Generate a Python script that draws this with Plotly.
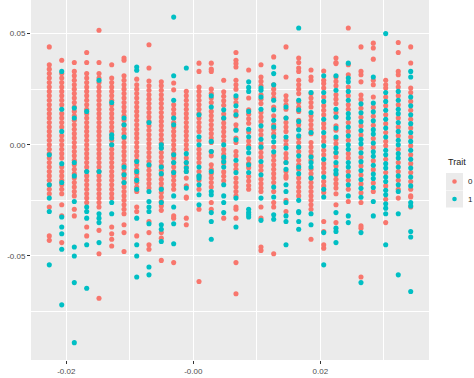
import plotly.graph_objects as go

# x position of each vertical strip (30 strips)
col_x = [-0.02268, -0.02072, -0.01874, -0.01679, -0.01485, -0.01285, -0.01091, -0.00891,
         -0.00698, -0.00504, -0.00309, -0.00110, 0.00090, 0.00283, 0.00479, 0.00672,
         0.00872, 0.01066, 0.01266, 0.01460, 0.01660, 0.01854, 0.02054, 0.02247,
         0.02441, 0.02641, 0.02835, 0.03030, 0.03228, 0.03424]

# y values (in units of 1e-3) for Trait 0 and Trait 1, one list per strip
t0_c01 = [44, 36, 34, 32, 30, 28, 26, 24, 22, 20, 18, 16, 14, 12, 10, 8, 6, 4, 2, 0, -2, -4, -6, -8, -10, -12, -14, -16, -18, -20, -22, -28, -41, -43]
t1_c01 = [-4.5, -18, -24, -30, -54]
t0_c02 = [38, 32, 30, 28, 26, 24, 22, 20, 18, 14, 12, 10, 8, 4, 2, 0, -2, -4, -6, -10, -12, -14, -16, -18, -20, -22, -27, -32, -44]
t1_c02 = [33, 16, 6, -8.5, -17, -32.5, -37, -40, -47, -72]
t0_c03 = [37, 33, 31, 29, 27, 25, 23, 21, 19, 17, 15, 13, 11, 9, 7, 5, 3, 1, -1, -3, -5, -7, -9, -11, -13, -15, -17, -19, -21, -23, -29, -32]
t1_c03 = [16.5, 12, -8, -14, -25.5, -46, -50, -62, -89]
t0_c04 = [41.5, 37, 32, 30, 28, 26, 24, 22, 20, 18, 16, 14, 12, 10, 8, 6, 4, 2, 0, -2, -4, -6, -8, -10, -12, -14, -16, -18, -20, -22, -24, -26, -37, -41]
t1_c04 = [15, -12, -28, -30, -33, -45, -64.5]
t0_c05 = [51.5, 37, 32, 30, 28, 26, 24, 22, 20, 18, 16, 14, 12, 10, 8, 6, 4, 2, 0, -2, -4, -6, -8, -10, -12, -14, -16, -18, -20, -22, -24, -26, -28, -38.5, -49, -69]
t1_c05 = [29, -12, -31, -33, -35, -44]
t0_c06 = [36, 30, 28, 26, 24, 22, 20, 18, 16, 14, 12, 10, 8, 6, 4, 2, 0, -2, -4, -6, -8, -10, -12, -14, -16, -18, -20, -22, -24, -37, -40, -42.5, -45.5]
t1_c06 = [19, 4.5, 3, 0, -26, -31]
t0_c07 = [39, 38, 31, 29, 27, 25, 23, 21, 19, 17, 15, 13, 11, 9, 7, 5, 3, 1, -1, -3, -5, -7, -9, -11, -13, -15, -17, -19, -21, -23, -25, -27, -29, -31, -36, -39.5, -48]
t1_c07 = [12, 9, 3.5, -10, -13.5, -17]
t0_c08 = [29.5, 27, 25, 23, 21, 19, 17, 15, 13, 11, 9, 7, 5, 3, 1, -1, -3, -5, -7, -9, -11, -13, -15, -17, -19, -21, -28, -30, -41]
t1_c08 = [35, 33.5, -7.5, -12, -16, -20, -33, -45, -50, -59.5]
t0_c09 = [45, 34.5, 28.7, 26.5, 24.5, 22.5, 20.5, 18.5, 16.5, 14.5, 12.5, 10.5, 8.5, 6.5, 4.5, 2.5, 0.5, -1.5, -3.5, -5.5, -7.5, -9.5, -11.5, -13.5, -15.5, -17.5, -19.5, -34.5, -39.5, -45, -47]
t1_c09 = [10, -9, -21, -25.5, -28, -30, -35.5, -55, -58.5]
t0_c10 = [28.3, 26.5, 24.5, 22.5, 20.5, 18.5, 16.5, 14.5, 12.5, 10.5, 8.5, 6.5, 4.5, 2.5, 0.5, -1.5, -3.5, -5.5, -7.5, -9.5, -11.5, -13.5, -15.5, -17.5, -19.5, -21.5, -23.5, -25.5, -27.5, -29.5, -39.5, -42, -52]
t1_c10 = [0, -1.5, -10, -13, -20, -26, -36, -38, -43.5]
t0_c11 = [27.8, 24.7, 18, 16, 14, 12, 10, 8, 6, 4, 2, 0, -2, -4, -6, -8, -10, -12, -14, -16, -18, -20, -32, -33, -53]
t1_c11 = [57.4, 31, 20, 12, 9, -4.5, -8, -12.5, -23, -28, -35.5, -44.5]
t0_c12 = [24, 22, 20, 18, 16, 14, 12, 10, 8, 6, 4, 2, 0, -2, -6, -8, -10, -12, -15, -18.5, -23.5, -24, -33, -36]
t1_c12 = [34.5, -4, -8, -10.5, -12, -19.5]
t0_c13 = [36.7, 33, 26, 24, 22, 20, 18, 16, 14, 12, 10, 8, 6, 2, -2, -4, -6, -8, -12, -14, -16, -20, -29, -61.5]
t1_c13 = [13.5, 3.6, 0, -10, -14, -15, -18, -22.5, -27]
t0_c14 = [36.7, 34, 33, 25, 23, 21, 19, 15, 13, 11, 9, 7, 5, 3, 1, -3, -5, -9, -11, -13, -15, -17, -19, -26, -29]
t1_c14 = [22, 17, 1.5, -3, -12, -21, -22.5, -30.5, -34.5, -42.5]
t0_c15 = [29, 23.8, 21.8, 19.8, 17.8, 13.8, 11.8, 9.8, 7.8, 5.8, 3.8, 1.8, -2.2, -4.2, -6.2, -8.2, -12.2, -14.2, -16.2, -33]
t1_c15 = [15.7, 12, 0, -5.5, -7.5, -10, -18, -23, -26, -30.5]
t0_c16 = [41.5, 38, 36.5, 35, 29, 27, 25, 21, 19, 15, 13, 9, 7, 3, 1, -3, -5, -9, -11, -15, -17, -19, -21, -23, -28, -29, -33, -53, -67]
t1_c16 = [22, 17.5, 13.5, 6.5, 2.2, -7, -12.5, -24, -37]
t0_c17 = [33.6, 21, 15.7, 13.7, 11.7, 9.7, 5.7, 1.7, -0.3, -6.3, -8.3, -10.3, -14.3, -16.3, -18.3, -20]
t1_c17 = [28.3, 25.8, 24, 15, 7, 3.6, -1.5, -3.6, -9, -12.5, -29, -30.5, -31.5, -32.5]
t0_c18 = [36, 30.5, 28.5, 26.5, 22.5, 20.5, 18.5, 14.5, 12.5, 10.5, 6.5, 4.5, 0.5, -1.5, -3.5, -5.5, -9.5, -11.5, -15.5, -17.5, -19.5, -21, -28, -33, -46, -47.5]
t1_c18 = [25.5, 24.5, 21.5, 16, 8.5, 2.5, -1, -7.5, -13.5, -24, -34]
t0_c19 = [39.5, 27, 25, 23, 21, 17, 13, 9, 7, 5, -1, -5, -7, -9, -11, -13, -15, -17, -21, -26, -28, -49]
t1_c19 = [35, 32, 27, 20, 15.7, 11, 8, 3.6, 1.3, -3.2, -19, -23.5, -31.5, -33.5]
t0_c20 = [44, 30.5, 22, 20, 18, 16, 12, 10, 8, 6, 2, 0, -4, -6, -8, -12, -14, -15, -25, -30]
t1_c20 = [17, 12, 3.5, -1.5, -8, -11, -18, -21, -26, -32, -34.5, -45]
t0_c21 = [39, 37, 34.5, 33, 29, 27, 25, 23, 19, 17, 15, 11, 9, 7, 3, 1, -1, -3, -7, -9, -11, -15, -17, -19, -21, -23]
t1_c21 = [52.5, 20, 15.7, 10.5, 6.7, 4, -1, -5, -10, -13, -25, -30, -30.5, -34.5, -38]
t0_c22 = [33.6, 30.5, 29, 23, 21, 19, 17, 13, 11, 9, 7, 5, 1, -1, -3, -5, -7, -11, -13, -15, -17, -19, -21, -23, -25, -27, -29, -42.5]
t1_c22 = [23.5, 14.5, 5.5, -5.5, -8, -10, -15, -31, -36]
t0_c23 = [33.2, 29, 27.5, 25.5, 21.5, 17.5, 15.5, 13.5, 9.5, 7.5, 3.5, 1.5, -2.5, -4.5, -8.5, -10.5, -12.5, -16.5, -18.5, -21.5, -34.5, -39, -45, -46.5]
t1_c23 = [31, 23.5, 19.5, 11.5, 5.5, -0.5, -6.5, -14.5, -20, -23.5, -39.5, -54]
t0_c24 = [39, 37, 36.5, 30.5, 28.5, 26.5, 22.5, 20.5, 18.5, 14.5, 12.5, 8.5, 6.5, 2.5, 0.5, -3.5, -5.5, -9.5, -13.5, -15.5, -17.5, -19.5, -22, -27, -35]
t1_c24 = [31, 24.5, 16, 12.5, 7.5, 3.5, -1.5, -3.5, -8, -11.5, -13, -30.5, -37.5, -39, -44]
t0_c25 = [52.5, 36, 31.5, 26, 22, 18, 16, 10, 6, 2, -4, -6, -12, -16, -20, -25.5]
t1_c25 = [36.7, 30, 28.3, 24, 20, 14, 12, 8, 4, 0, -2, -8, -10, -14, -18, -23, -32, -35]
t0_c26 = [44, 33, 31.5, 28.3, 22.4, 20.4, 16.4, 12.4, 8.4, 4.4, -1.6, -5.6, -9.6, -13.6, -17.6, -21.6, -26, -36.5, -37.5, -59.5]
t1_c26 = [18.4, 14.4, 10.4, 6.4, 2.4, 0.4, -3.6, -7.6, -11.6, -15.6, -19.6, -23.6, -39.5, -62]
t0_c27 = [45.7, 43.5, 38.5, 29, 27, 21.5, 16.8, 12.8, 8.8, 2.8, -1.2, -7.2, -11.2, -17.2, -21]
t1_c27 = [30.5, 18.8, 14.8, 10.8, 6.8, 4.8, 0.8, -3.2, -5.2, -9.2, -13.2, -15.2, -19.2, -25.5, -32]
t0_c28 = [29, 27, 25.5, 21.5, 17.5, 13.5, 9.5, 5.5, 1.5, -0.5, -6.5, -12.5, -18.5, -24.5, -35]
t1_c28 = [50, 23.5, 19.5, 15.5, 11.5, 7.5, 3.5, -2.5, -4.5, -8.5, -10.5, -14.5, -16.5, -20.5, -22.5, -26.5, -28.5, -31, -45]
t0_c29 = [46, 41.5, 33, 31.5, 28, 26, 22, 18, 12, 8, 4, -2, -8, -12, -16, -20, -24]
t1_c29 = [24, 20, 16, 14, 10, 6, 2, 0, -4, -6, -10, -14, -18, -21, -31, -58.5]
t0_c30 = [44, 36.8, 25.5, 23.5, 19.5, 15.5, 11.5, 7.5, 3.5, -0.5, -4.5, -8.5, -12.5, -16.5, -20, -23, -23.5, -28]
t1_c30 = [33, 30.5, 21.5, 17.5, 13.5, 9.5, 5.5, 1.5, -2.5, -6.5, -10.5, -14.5, -18.5, -26, -27.5, -39, -41.5, -66]

trait0_cols = [t0_c01, t0_c02, t0_c03, t0_c04, t0_c05, t0_c06, t0_c07, t0_c08, t0_c09, t0_c10,
               t0_c11, t0_c12, t0_c13, t0_c14, t0_c15, t0_c16, t0_c17, t0_c18, t0_c19, t0_c20,
               t0_c21, t0_c22, t0_c23, t0_c24, t0_c25, t0_c26, t0_c27, t0_c28, t0_c29, t0_c30]
trait1_cols = [t1_c01, t1_c02, t1_c03, t1_c04, t1_c05, t1_c06, t1_c07, t1_c08, t1_c09, t1_c10,
               t1_c11, t1_c12, t1_c13, t1_c14, t1_c15, t1_c16, t1_c17, t1_c18, t1_c19, t1_c20,
               t1_c21, t1_c22, t1_c23, t1_c24, t1_c25, t1_c26, t1_c27, t1_c28, t1_c29, t1_c30]

x_ticks = [-0.02, 0.0, 0.02]
x_ticktext = ["-0.02", "-0.00", "0.02"]
y_ticks = [0.05, 0.0, -0.05]
y_ticktext = ["0.05", "0.00", "-0.05"]
trait_labels = ["0", "1"]
trait_colors = ["#F8766D", "#00BFC4"]


def flatten(cols):
    xs, ys = [], []
    for cx, col in zip(col_x, cols):
        for v in col:
            xs.append(cx)
            ys.append(v / 1000.0)
    return xs, ys


fig = go.Figure()
for cols, lab, colr in zip([trait0_cols, trait1_cols], trait_labels, trait_colors):
    xs, ys = flatten(cols)
    fig.add_trace(go.Scatter(x=xs, y=ys, mode="markers", name=lab, showlegend=False,
                             marker=dict(color=colr, size=5.1, line=dict(width=0))))

W, H = 474, 378
L, R, T, B = 31, 45, 0, 18
pw, ph = W - L - R, H - T - B


def px2paper(px, py):
    return (px - L) / pw, (H - B - py) / ph


font_fam = "Liberation Sans, Arial, sans-serif"
axis_common = dict(showline=False, zeroline=False, ticks="outside", ticklen=3, tickwidth=1,
                   tickcolor="#333333", gridcolor="white", gridwidth=1,
                   tickfont=dict(size=8, color="#4D4D4D", family=font_fam))

fig.update_layout(
    width=W, height=H,
    margin=dict(l=L, r=R, t=T, b=B, pad=0),
    paper_bgcolor="white", plot_bgcolor="#EBEBEB",
    xaxis=dict(range=[-0.02556, 0.03712], tickvals=x_ticks, ticktext=x_ticktext,
               minor=dict(tickvals=[-0.01, 0.01, 0.03], showgrid=True, gridcolor="white",
                          gridwidth=0.5, ticks=""), **axis_common),
    yaxis=dict(range=[-0.0968, 0.0651], tickvals=y_ticks, ticktext=y_ticktext,
               minor=dict(tickvals=[0.025, -0.025, -0.075], showgrid=True, gridcolor="white",
                          gridwidth=0.5, ticks=""), **axis_common),
    font=dict(family=font_fam),
)

# manual ggplot-style legend
shapes = []
annotations = []
tx, ty = px2paper(446, 162)
annotations.append(dict(x=tx, y=ty, xref="paper", yref="paper", text="Trait", showarrow=False,
                        xanchor="left", yanchor="middle", font=dict(size=9, color="#1A1A1A")))
for i, (lab, colr) in enumerate(zip(trait_labels, trait_colors)):
    top = 173 + i * 17.5
    x0, y1 = px2paper(446, top)
    x1, y0 = px2paper(463, top + 17)
    shapes.append(dict(type="rect", xref="paper", yref="paper", x0=x0, x1=x1, y0=y0, y1=y1,
                       fillcolor="#EBEBEB", line=dict(width=0), layer="below"))
    cx, cy = px2paper(454.5, top + 8.5)
    shapes.append(dict(type="circle", xref="paper", yref="paper", xsizemode="pixel",
                       ysizemode="pixel", xanchor=cx, yanchor=cy, x0=-2.3, x1=2.3, y0=-2.3, y1=2.3,
                       fillcolor=colr, line=dict(width=0)))
    lx, ly = px2paper(466, top + 8.5)
    annotations.append(dict(x=lx, y=ly, xref="paper", yref="paper", text=lab, showarrow=False,
                            xanchor="left", yanchor="middle", font=dict(size=8, color="#1A1A1A")))
fig.update_layout(shapes=shapes, annotations=annotations)

fig.write_html("out.html")
